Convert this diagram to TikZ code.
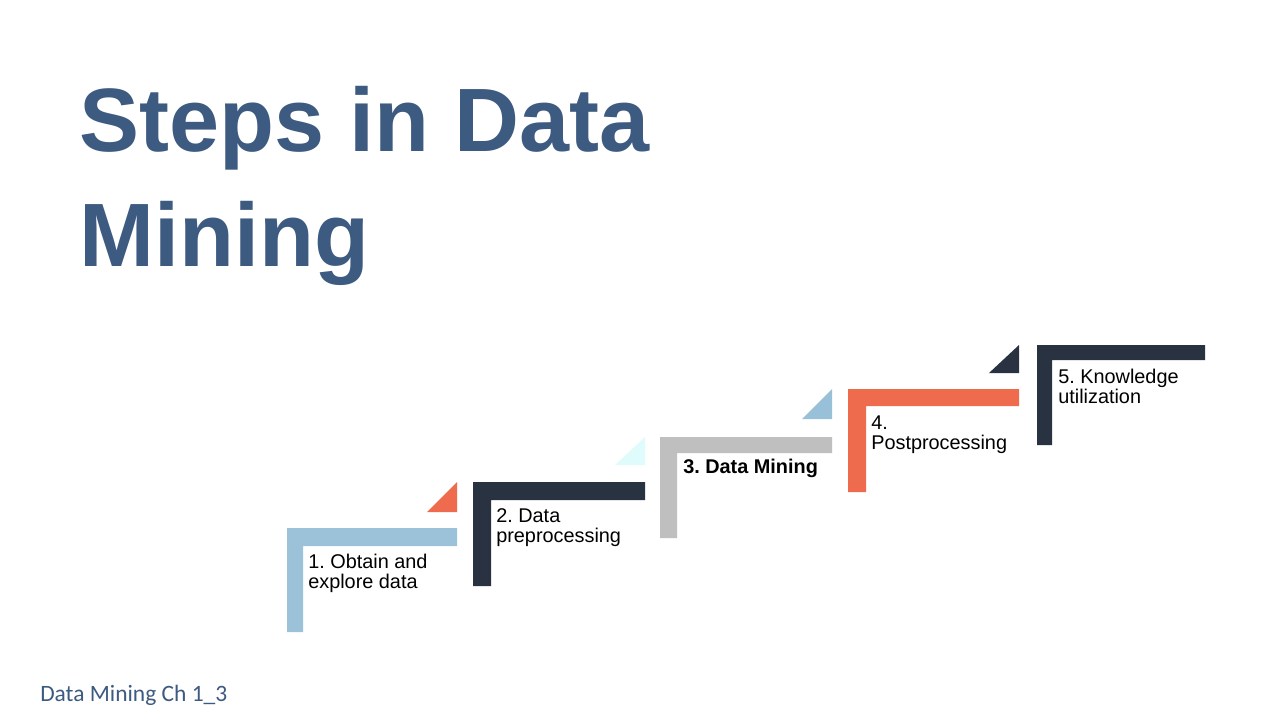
\documentclass[tikz,border=0pt]{standalone}
\usepackage{fontspec}
\setmainfont{Liberation Sans}
\newfontfamily\footfont{Carlito}
\definecolor{titleblue}{HTML}{3D5A80}
\definecolor{lightblue}{HTML}{9CC2DA}
\definecolor{midblue}{HTML}{98C1D9}
\definecolor{coral}{HTML}{EE6C4D}
\definecolor{navy}{HTML}{293241}
\definecolor{paleCyan}{HTML}{E0FBFC}
\definecolor{stepgray}{HTML}{BFBFBF}
\frenchspacing
\newcommand\mytwoline[3]{\vtop{\baselineskip=#1\relax\hbox{#2}\hbox{#3}}}
\tikzset{
  steptext/.style={anchor=base west, inner sep=0pt, text=black,
    font=\fontsize{14.9}{15}\selectfont},
  lshape/.style={draw=none},
  tri/.style={draw=none}
}
\begin{document}
\begin{tikzpicture}[x=0.75pt,y=-0.75pt]
\useasboundingbox[fill=white] (0,0) rectangle (1280,720);

% title
\node[anchor=base west, inner sep=0pt, text=titleblue,
  font=\fontsize{67.5}{86.25}\selectfont\bfseries] (title) at (79,152)
  {\mytwoline{86.25pt}{Steps in Data}{Mining}};

% footer
\node[anchor=base west, inner sep=0pt, text=titleblue,
  font=\footfont\fontsize{17.6}{20}\selectfont] (footer) at (40,701)
  {Data Mining Ch 1\_3};

% steps (L shapes)
\fill[lshape, lightblue] (287,528) -- (457,528) -- (457,546) -- (303,546) -- (303,632) -- (287,632) -- cycle;
\fill[lshape, navy] (473,482) -- (645,482) -- (645,500) -- (491,500) -- (491,586) -- (473,586) -- cycle;
\fill[lshape, stepgray] (660,437) -- (832,437) -- (832,453) -- (677,453) -- (677,538) -- (660,538) -- cycle;
\fill[lshape, coral] (848,389) -- (1019,389) -- (1019,406) -- (866,406) -- (866,492) -- (848,492) -- cycle;
\fill[lshape, navy] (1037,345) -- (1205,345) -- (1205,360) -- (1052,360) -- (1052,445) -- (1037,445) -- cycle;

% triangles
\fill[tri, coral] (427,512) -- (457,512) -- (457,482) -- cycle;
\fill[tri, paleCyan] (615,465) -- (645,465) -- (645,437) -- cycle;
\fill[tri, midblue] (802,419) -- (832,419) -- (832,389) -- cycle;
\fill[tri, navy] (989,373) -- (1019,373) -- (1019,345) -- cycle;

% texts
\node[steptext] (s1) at (308,568) {\mytwoline{15pt}{1. Obtain and}{explore data}};
\node[steptext] (s2) at (496,522) {\mytwoline{15pt}{2. Data}{preprocessing}};
\node[steptext, font=\fontsize{14.9}{15}\selectfont\bfseries] (s3) at (683,473) {3. Data Mining};
\node[steptext] (s4) at (871,429) {\mytwoline{15pt}{4.}{Postprocessing}};
\node[steptext] (s5) at (1058,383) {\mytwoline{15pt}{5. Knowledge}{utilization}};
\end{tikzpicture}
\end{document}
